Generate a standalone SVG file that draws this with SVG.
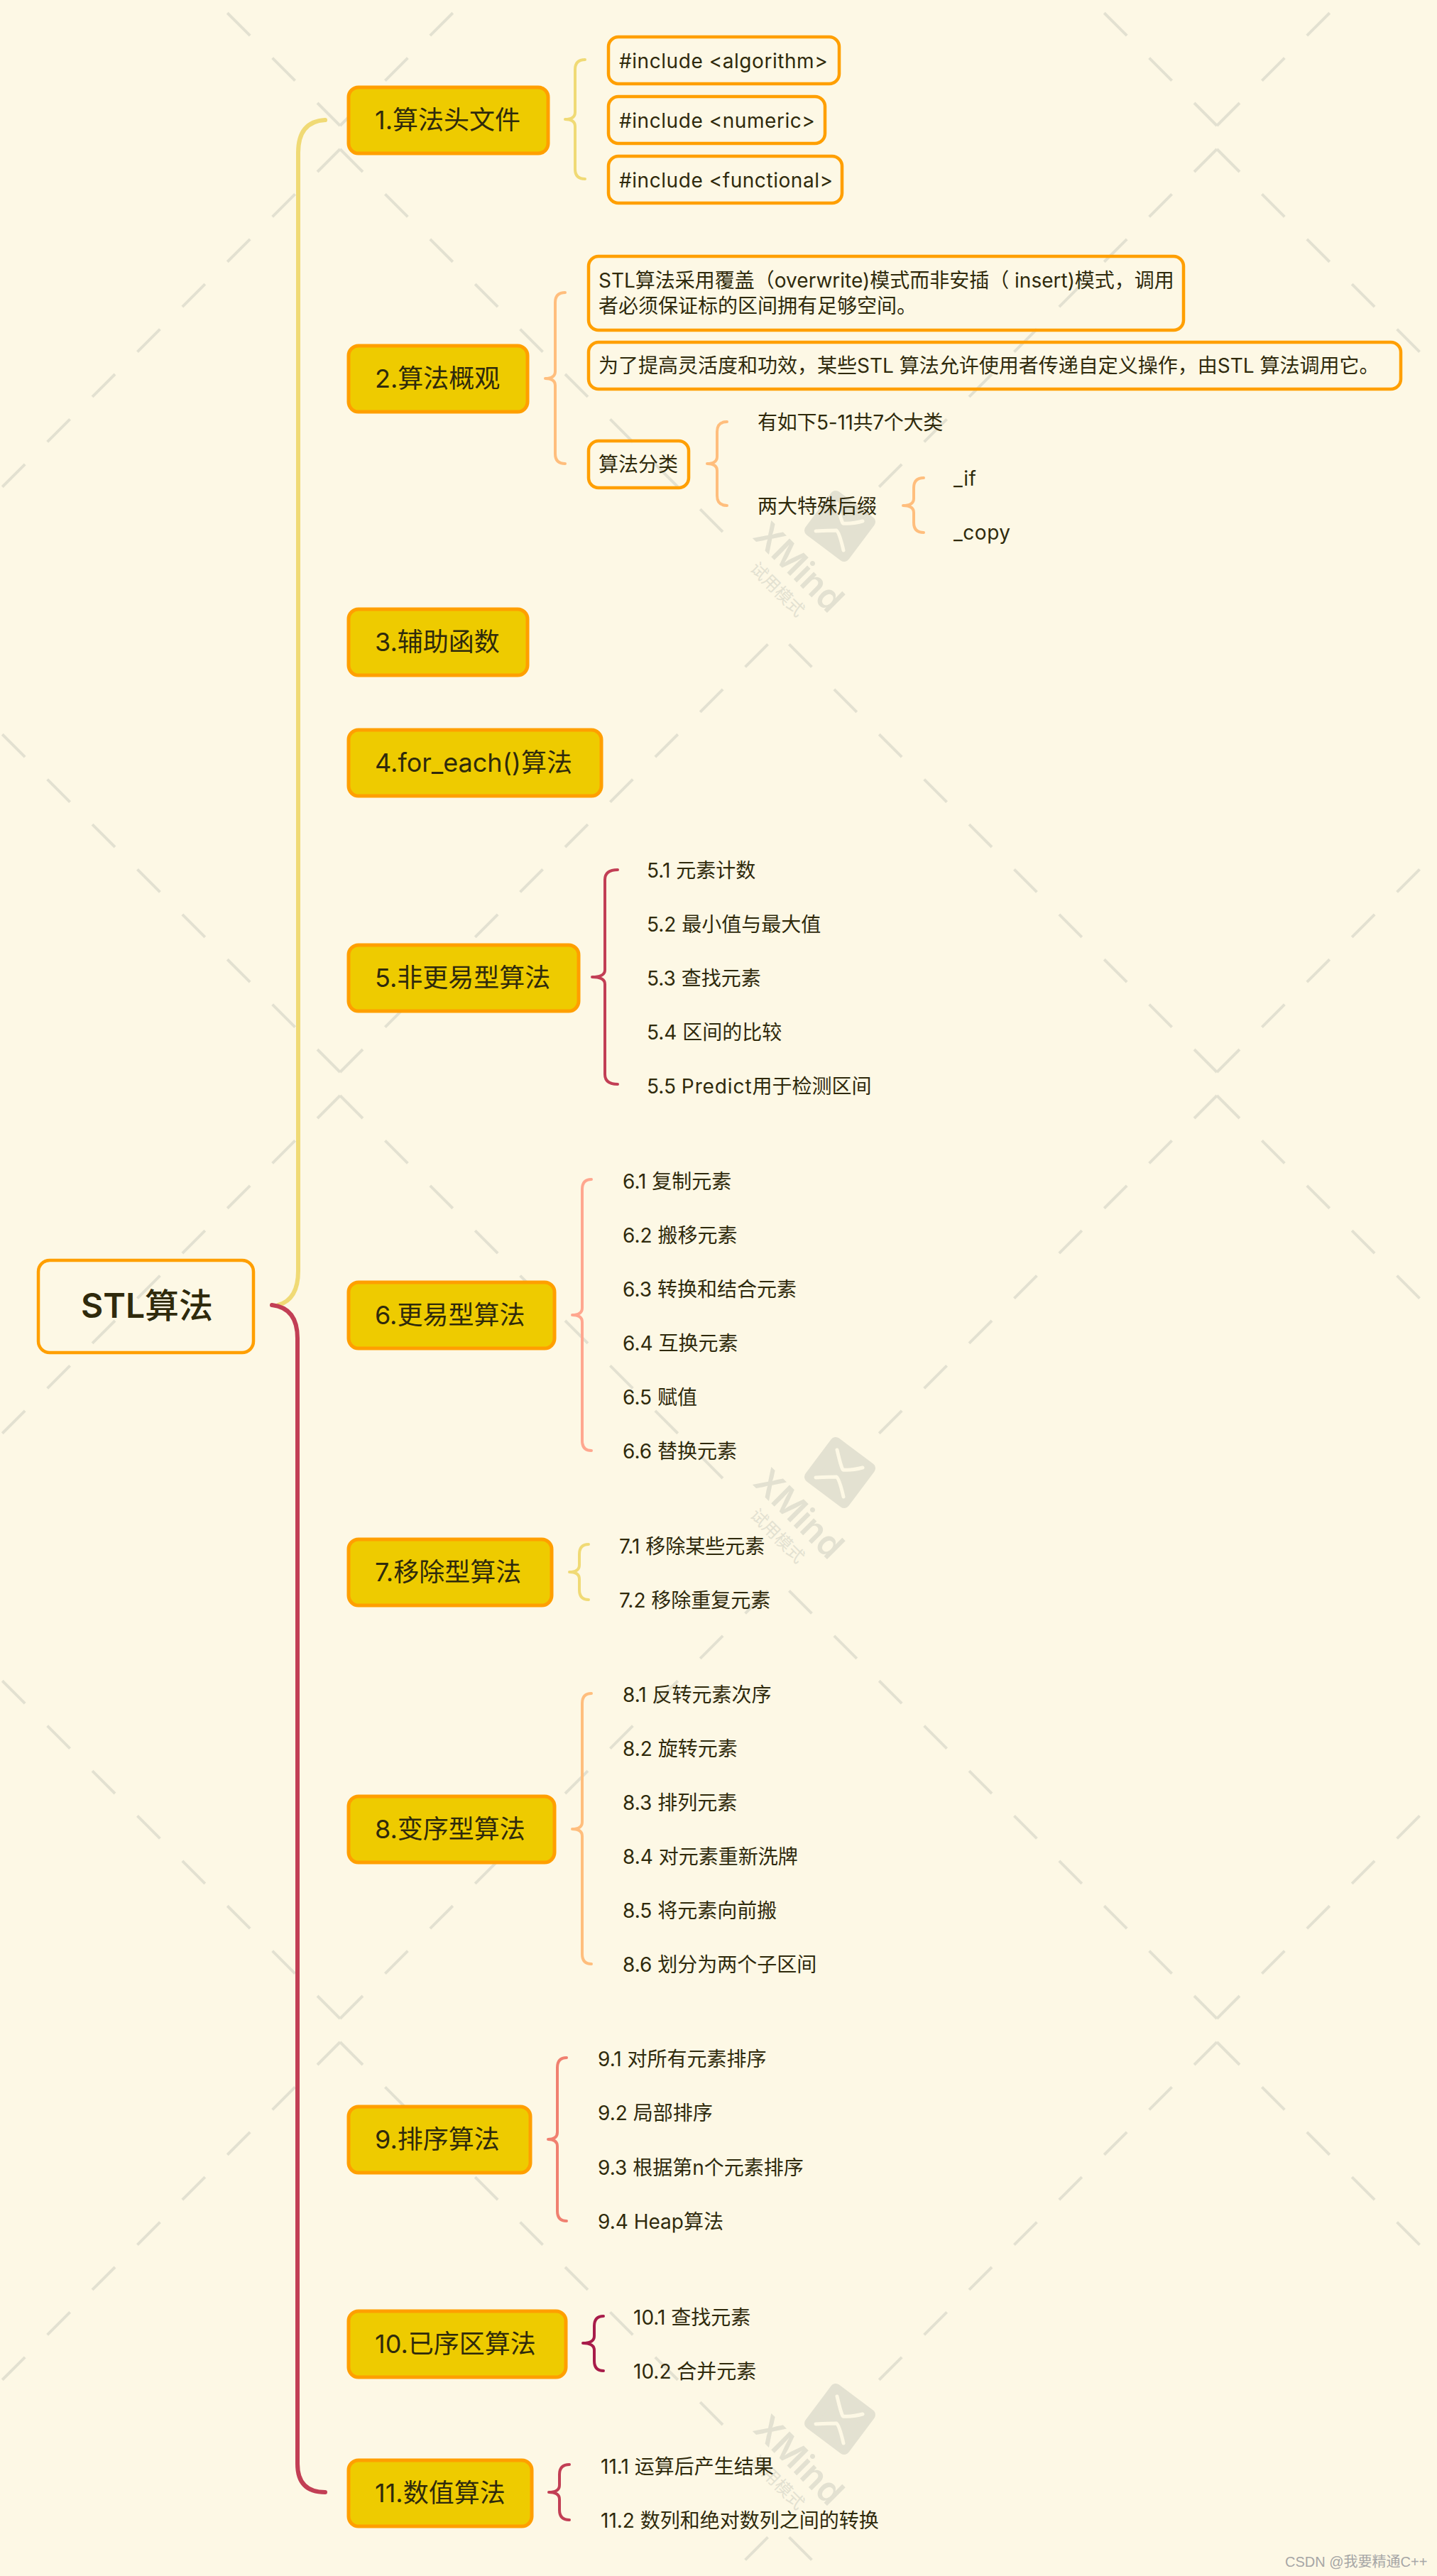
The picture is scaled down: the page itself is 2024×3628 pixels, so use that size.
<svg xmlns="http://www.w3.org/2000/svg" xmlns:xlink="http://www.w3.org/1999/xlink" width="2024" height="3628" viewBox="0 0 2024 3628">
<style>
text{font-family:"Inter","Noto Sans CJK SC",sans-serif;fill:#2f2a0c;dominant-baseline:central}
.main{fill:#eecb00;stroke:#ff9f00;stroke-width:5}
.sub{fill:none;stroke:#ff9f00;stroke-width:4.5}
.m{font-size:36px;transform:translateY(1px)}
.s{font-size:28px;transform:translateY(2px)}
.ls{letter-spacing:.55px}
.conn{fill:none;stroke-width:4;stroke-linecap:round;stroke-linejoin:round}
.trunk{fill:none;stroke-width:6;stroke-linecap:round}
.wm{fill:#e3e1d1}
.dash{fill:none;stroke:#e3e1d1;stroke-width:4;stroke-dasharray:45.2 44.46}
</style>
<defs>
<path id="arms" class="dash" d="M479 17L1018 556M479 17L3 493M479 -16L1082 -619M479 -16L3 -492M1714 17L2063 366M1714 17L1238 493M1714 -16L2063 -365M1714 -16L1111 -619"/>
<g id="mark">
<path d="M1177 2032L1225 2068L1189 2116L1141 2080Z" fill="#e3e1d1" stroke="#e3e1d1" stroke-width="16" stroke-linejoin="round"/>
<path d="M1179 2042Q1186 2072 1188 2070Q1200 2071 1215 2067M1149 2081Q1170 2080 1178 2080Q1182 2082 1188 2108" fill="none" stroke="#fdf8e5" stroke-width="5" stroke-linecap="round"/>
<text class="wm" transform="translate(1059 2090) rotate(45)" font-size="50" font-weight="600" textLength="153" lengthAdjust="spacingAndGlyphs" style="dominant-baseline:auto">XMind</text>
<text class="wm" transform="translate(1095 2163) rotate(45)" font-size="24" text-anchor="middle">试用模式</text>
</g>
</defs>
<rect width="2024" height="3628" fill="#fdf8e5"/>
<g id="watermark">
<use href="#arms" transform="translate(0 193)"/>
<use href="#arms" transform="translate(0 1526)"/>
<use href="#arms" transform="translate(0 2859)"/>
<use href="#arms" transform="translate(0 4192)"/>
<use href="#mark" transform="translate(0 -1333)"/>
<use href="#mark"/>
<use href="#mark" transform="translate(0 1333)"/>
</g>
<g id="connectors">
<path class="trunk" stroke="#f0da75" d="M458 169Q420 171 420 215V1790Q420 1830 392 1838"/>
<path class="trunk" stroke="#c23f55" d="M383 1838Q419 1842 419 1885V3470Q419 3510 458 3510"/>
<path class="conn" stroke="#f0da75" d="M824 84Q810 84 810 98V158Q810 168 796 168Q810 168 810 178V238Q810 252 824 252"/>
<path class="conn" stroke="#ffbe7d" d="M796 412Q782 412 782 426V523Q782 533 768 533Q782 533 782 543V639Q782 653 796 653"/>
<path class="conn" stroke="#ffbe7d" d="M1024 594Q1010 594 1010 608V643Q1010 653 996 653Q1010 653 1010 663V698Q1010 712 1024 712"/>
<path class="conn" stroke="#ffbe7d" d="M1301 673Q1287 673 1287 687V702Q1287 712 1272 712Q1287 712 1287 722V736Q1287 750 1301 750"/>
<path class="conn" stroke="#c23f55" d="M870 1225Q852 1225 852 1239V1366Q852 1376 834 1376Q852 1376 852 1386V1513Q852 1527 870 1527"/>
<path class="conn" stroke="#ffa78f" d="M833 1661Q820 1661 820 1675V1842Q820 1852 806 1852Q820 1852 820 1862V2029Q820 2043 833 2043"/>
<path class="conn" stroke="#f0da75" d="M829 2175Q816 2175 816 2189V2204Q816 2214 802 2214Q816 2214 816 2224V2239Q816 2253 829 2253"/>
<path class="conn" stroke="#ffbe7d" d="M833 2385Q820 2385 820 2399V2566Q820 2576 806 2576Q820 2576 820 2586V2752Q820 2766 833 2766"/>
<path class="conn" stroke="#f08070" d="M798 2898Q785 2898 785 2912V3003Q785 3013 772 3013Q785 3013 785 3023V3114Q785 3128 798 3128"/>
<path class="conn" stroke="#a81c4a" d="M850 3262Q837 3262 837 3276V3290Q837 3300 821 3300Q837 3300 837 3310V3325Q837 3339 850 3339"/>
<path class="conn" stroke="#c23f55" d="M802 3471Q788 3471 788 3485V3500Q788 3510 773 3510Q788 3510 788 3520V3535Q788 3549 802 3549"/>
</g>
<g id="root"><rect x="54" y="1775" width="303" height="130" rx="16" fill="none" stroke="#ff9f00" stroke-width="4.5"/><text x="114" y="1838" font-size="48" font-weight="500"><tspan font-weight="600">STL</tspan>算法</text></g>
<g id="n1"><rect class="main" x="491" y="123" width="281" height="93" rx="14"/><text class="m" x="528" y="168">1.算法头文件</text></g>
<g id="n1a"><rect class="sub" x="857" y="52" width="325" height="66" rx="14"/><text class="s ls" x="872" y="84">#include &lt;algorithm&gt;</text></g>
<g id="n1b"><rect class="sub" x="857" y="136" width="305" height="66" rx="14"/><text class="s ls" x="872" y="168">#include &lt;numeric&gt;</text></g>
<g id="n1c"><rect class="sub" x="857" y="220" width="329" height="66" rx="14"/><text class="s ls" x="872" y="252">#include &lt;functional&gt;</text></g>
<g id="n2"><rect class="main" x="491" y="487" width="252" height="93" rx="14"/><text class="m" x="528" y="532">2.算法概观</text></g>
<g id="n2a"><rect class="sub" x="829" y="361" width="838" height="104" rx="14"/><text class="s" x="843" y="393">STL算法采用覆盖（overwrite)模式而非安插（ insert)模式，调用</text><text class="s" x="843" y="429">者必须保证标的区间拥有足够空间。</text></g>
<g id="n2b"><rect class="sub" x="829" y="482" width="1144" height="66" rx="14"/><text class="s" x="843" y="513">为了提高灵活度和功效，某些STL 算法允许使用者传递自定义操作，由STL 算法调用它。</text></g>
<g id="n2c"><rect class="sub" x="829" y="621" width="141" height="66" rx="14"/><text class="s" x="843" y="652">算法分类</text></g>
<g id="n2c1"><text class="s" x="1067" y="593" letter-spacing="-.3">有如下5-11共7个大类</text></g>
<g id="n2c2"><text class="s" x="1067" y="711">两大特殊后缀</text></g>
<g id="n2c2a"><text class="s ls" x="1343" y="672">_if</text></g>
<g id="n2c2b"><text class="s ls" x="1343" y="748">_copy</text></g>
<g id="n3"><rect class="main" x="491" y="858" width="252" height="93" rx="14"/><text class="m" x="528" y="903">3.辅助函数</text></g>
<g id="n4"><rect class="main" x="491" y="1028" width="356" height="93" rx="14"/><text class="m" x="528" y="1073">4.for_each()算法</text></g>
<g id="n5"><rect class="main" x="491" y="1331" width="324" height="93" rx="14"/><text class="m" x="528" y="1376">5.非更易型算法</text></g>
<g id="n51"><text class="s" x="911" y="1224">5.1 元素计数</text></g>
<g id="n52"><text class="s" x="911" y="1300">5.2 最小值与最大值</text></g>
<g id="n53"><text class="s" x="911" y="1376">5.3 查找元素</text></g>
<g id="n54"><text class="s" x="911" y="1452">5.4 区间的比较</text></g>
<g id="n55"><text class="s" x="911" y="1528">5.5 <tspan letter-spacing=".9">Predict</tspan>用于检测区间</text></g>
<g id="n6"><rect class="main" x="491" y="1806" width="290" height="93" rx="14"/><text class="m" x="528" y="1851">6.更易型算法</text></g>
<g id="n61"><text class="s" x="877" y="1662">6.1 复制元素</text></g>
<g id="n62"><text class="s" x="877" y="1738">6.2 搬移元素</text></g>
<g id="n63"><text class="s" x="877" y="1814">6.3 转换和结合元素</text></g>
<g id="n64"><text class="s" x="877" y="1890">6.4 互换元素</text></g>
<g id="n65"><text class="s" x="877" y="1966">6.5 赋值</text></g>
<g id="n66"><text class="s" x="877" y="2042">6.6 替换元素</text></g>
<g id="n7"><rect class="main" x="491" y="2168" width="286" height="93" rx="14"/><text class="m" x="528" y="2213">7.移除型算法</text></g>
<g id="n71"><text class="s" x="872" y="2176">7.1 移除某些元素</text></g>
<g id="n72"><text class="s" x="872" y="2252">7.2 移除重复元素</text></g>
<g id="n8"><rect class="main" x="491" y="2530" width="290" height="93" rx="14"/><text class="m" x="528" y="2575">8.变序型算法</text></g>
<g id="n81"><text class="s" x="877" y="2385">8.1 反转元素次序</text></g>
<g id="n82"><text class="s" x="877" y="2461">8.2 旋转元素</text></g>
<g id="n83"><text class="s" x="877" y="2537">8.3 排列元素</text></g>
<g id="n84"><text class="s" x="877" y="2613">8.4 对元素重新洗牌</text></g>
<g id="n85"><text class="s" x="877" y="2689">8.5 将元素向前搬</text></g>
<g id="n86"><text class="s" x="877" y="2765">8.6 划分为两个子区间</text></g>
<g id="n9"><rect class="main" x="491" y="2967" width="256" height="93" rx="14"/><text class="m" x="528" y="3012">9.排序算法</text></g>
<g id="n91"><text class="s" x="842" y="2898">9.1 对所有元素排序</text></g>
<g id="n92"><text class="s" x="842" y="2974">9.2 局部排序</text></g>
<g id="n93"><text class="s" x="842" y="3051">9.3 根据第n个元素排序</text></g>
<g id="n94"><text class="s" x="842" y="3127">9.4 Heap算法</text></g>
<g id="n10"><rect class="main" x="491" y="3255" width="306" height="93" rx="14"/><text class="m" x="528" y="3300">10.已序区算法</text></g>
<g id="n101"><text class="s" x="892" y="3262">10.1 查找元素</text></g>
<g id="n102"><text class="s" x="892" y="3338">10.2 合并元素</text></g>
<g id="n11"><rect class="main" x="491" y="3465" width="258" height="93" rx="14"/><text class="m" x="528" y="3510">11.数值算法</text></g>
<g id="n111"><text class="s" x="846" y="3472">11.1 运算后产生结果</text></g>
<g id="n112"><text class="s" x="846" y="3548">11.2 数列和绝对数列之间的转换</text></g>
<text x="1810" y="3608" font-size="20" style="font-family:'Liberation Sans','Noto Sans CJK SC',sans-serif;fill:#a6a6a6">CSDN @我要精通C++</text>
</svg>
